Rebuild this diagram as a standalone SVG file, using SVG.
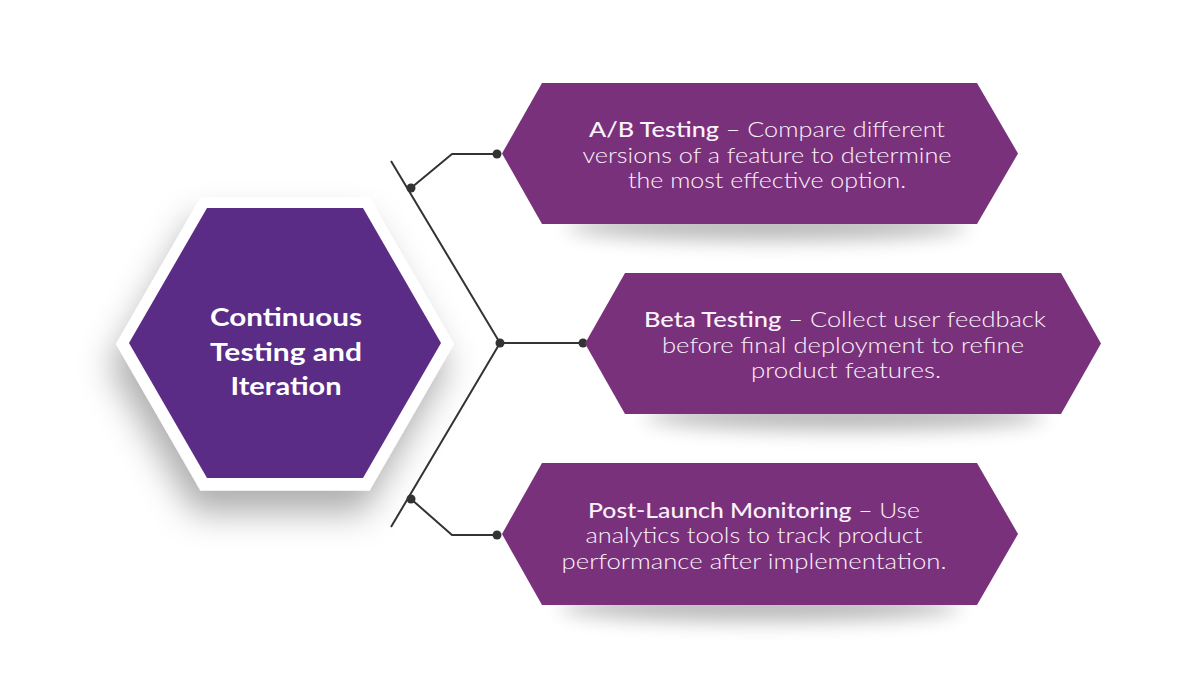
<svg xmlns="http://www.w3.org/2000/svg" width="1200" height="700" viewBox="0 0 1200 700">
  <style>
    .conn { fill: none; stroke: #333333; stroke-width: 2; stroke-linejoin: round; }
    .dot { fill: #333333; }
    .main { fill: #5B2C86; }
    .sub { fill: #7A317C; }
    .title { font-family: Lato, "Open Sans", "Liberation Sans", sans-serif; font-weight: 700; font-size: 25px; fill: #FFFFFF; text-anchor: middle; }
    .body { font-family: Lato, "Open Sans", "Liberation Sans", sans-serif; font-weight: 300; font-size: 21px; fill: #FBF3FB; text-anchor: middle; }
    .b { font-weight: 500; }
    .shade { fill: #000000; opacity: 0.28; }
  </style>
  <defs>
    <filter id="haloShadow" x="-30%" y="-30%" width="160%" height="170%">
      <feDropShadow dx="-6" dy="22" stdDeviation="17" flood-color="#000000" flood-opacity="0.32"/>
    </filter>
    <filter id="blur" x="-20%" y="-200%" width="140%" height="500%">
      <feGaussianBlur stdDeviation="10"/>
    </filter>
  </defs>
  <rect width="1200" height="700" fill="#FFFFFF"/>

  <g id="center-node">
    <polygon points="116,344 200.5,197.6 369.5,197.6 454,344 369.5,490.4 200.5,490.4" fill="#FFFFFF" filter="url(#haloShadow)"/>
    <polygon class="main" points="129,343 207,208 363,208 441,343 363,478 207,478"/>
    <text class="title" x="286" y="326" textLength="152" lengthAdjust="spacingAndGlyphs">Continuous</text>
    <text class="title" x="286" y="361" textLength="152" lengthAdjust="spacingAndGlyphs">Testing and</text>
    <text class="title" x="286" y="395" textLength="111" lengthAdjust="spacingAndGlyphs">Iteration</text>
  </g>

  <g id="connectors">
    <polyline class="conn" points="391,161 500,343 391,527"/>
    <polyline class="conn" points="411,188 452,154 497,154"/>
    <line class="conn" x1="500" y1="343" x2="583" y2="343"/>
    <polyline class="conn" points="411,499 452,535 497,535"/>
    <circle class="dot" cx="411" cy="188" r="4.5"/>
    <circle class="dot" cx="497" cy="154" r="4.5"/>
    <circle class="dot" cx="500" cy="343" r="4.5"/>
    <circle class="dot" cx="583" cy="343" r="4.5"/>
    <circle class="dot" cx="411" cy="499" r="4.5"/>
    <circle class="dot" cx="497" cy="535" r="4.5"/>
  </g>

  <g id="node-ab-testing">
    <ellipse class="shade" cx="767" cy="226" rx="200" ry="14" filter="url(#blur)"/>
    <polygon class="sub" points="502,153.5 542,83 977,83 1018,153.5 977,224 542,224"/>
    <text class="body" x="767" y="137" textLength="356" lengthAdjust="spacingAndGlyphs"><tspan class="b">A/B Testing</tspan> – Compare different</text>
    <text class="body" x="767" y="162.5" textLength="369" lengthAdjust="spacingAndGlyphs">versions of a feature to determine</text>
    <text class="body" x="767" y="188" textLength="278" lengthAdjust="spacingAndGlyphs">the most effective option.</text>
  </g>

  <g id="node-beta-testing">
    <ellipse class="shade" cx="845" cy="416" rx="200" ry="14" filter="url(#blur)"/>
    <polygon class="sub" points="585,343.5 625,273 1061,273 1101,343.5 1061,414 625,414"/>
    <text class="body" x="845" y="327" textLength="402" lengthAdjust="spacingAndGlyphs"><tspan class="b">Beta Testing</tspan> – Collect user feedback</text>
    <text class="body" x="843" y="352.5" textLength="362" lengthAdjust="spacingAndGlyphs">before final deployment to refine</text>
    <text class="body" x="846" y="378" textLength="190" lengthAdjust="spacingAndGlyphs">product features.</text>
  </g>

  <g id="node-post-launch">
    <ellipse class="shade" cx="760" cy="607" rx="200" ry="14" filter="url(#blur)"/>
    <polygon class="sub" points="502,534 542,463 977,463 1018,534 977,605 542,605"/>
    <text class="body" x="754" y="517.5" textLength="332" lengthAdjust="spacingAndGlyphs"><tspan class="b">Post-Launch Monitoring</tspan> – Use</text>
    <text class="body" x="754" y="543" textLength="337" lengthAdjust="spacingAndGlyphs">analytics tools to track product</text>
    <text class="body" x="754" y="568.5" textLength="385" lengthAdjust="spacingAndGlyphs">performance after implementation.</text>
  </g>
</svg>
